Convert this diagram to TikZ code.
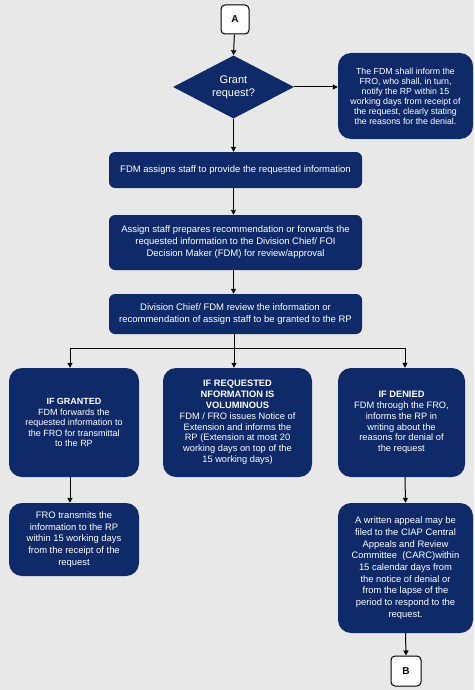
\documentclass[tikz,border=0pt]{standalone}
\usepackage{fontspec}
\setmainfont{Liberation Sans}
\usetikzlibrary{shapes.geometric,arrows.meta}
\definecolor{navy}{RGB}{14,42,104}
\definecolor{bg}{RGB}{232,232,232}
\tikzset{
  x=1pt,y=-1pt,
  flow/.style={draw=none,fill=navy,text=white,rounded corners=6pt,align=center,inner sep=0pt,
    font=\fontsize{9.5}{12}\selectfont},
  side/.style={flow,rounded corners=13pt,font=\fontsize{9.4}{11.7}\selectfont},
  sidemid/.style={side,font=\fontsize{9.3}{10.8}\selectfont},
  sidesm/.style={side,font=\fontsize{9}{10.6}\selectfont},
  sidenote/.style={side,font=\fontsize{8.8}{10}\selectfont},
  conn/.style={draw=black,line width=1pt,fill=white,rounded corners=4pt,font=\bfseries\fontsize{10}{12}\selectfont,inner sep=0pt},
  arr/.style={line width=1pt,-{Triangle[length=5pt,width=5pt]}},
  ln/.style={line width=1pt}
}
\begin{document}
\begin{tikzpicture}
\fill[bg] (0,0) rectangle (474,690);
\useasboundingbox (0,0) rectangle (474,690);
\node[conn,minimum width=28pt,minimum height=29pt] (A) at (235,19.5) {A};
\node[diamond,fill=navy,text=white,inner sep=0pt,minimum width=121pt,minimum height=63pt,aspect=1.92,align=center,font=\fontsize{11}{13}\selectfont] (Q) at (233.5,87) {Grant\\request?};
\node[sidenote,minimum width=135pt,minimum height=86pt] (N) at (405.5,96) {The FDM shall inform the\\FRO, who shall, in turn,\\notify the RP within 15\\working days from receipt of\\the request, clearly stating\\the reasons for the denial.};
\node[flow,minimum width=253pt,minimum height=36pt] (S1) at (235.5,170) {FDM assigns staff to provide the requested information};
\node[flow,minimum width=253pt,minimum height=55pt] (S2) at (235.5,242.5) {Assign staff prepares recommendation or forwards the\\requested information to the Division Chief/ FOI\\Decision Maker (FDM) for review/approval};
\node[flow,minimum width=253pt,minimum height=40pt] (S3) at (235.5,314) {Division Chief/ FDM review the information or\\recommendation of assign staff to be granted to the RP};
\node[sidesm,minimum width=130pt,minimum height=109pt] (G) at (74,422.5) {\textbf{IF GRANTED}\\FDM forwards the\\requested information to\\the FRO for transmittal\\to the RP};
\node[sidemid,minimum width=149pt,minimum height=109pt] (V) at (237.5,422.5) {\textbf{IF REQUESTED}\\\textbf{NFORMATION IS}\\\textbf{VOLUMINOUS}\\FDM / FRO issues Notice of\\Extension and informs the\\RP (Extension at most 20\\working days on top of the\\15 working days)};
\node[sidemid,minimum width=127pt,minimum height=109pt] (D) at (401.5,422.5) {\textbf{IF DENIED}\\FDM through the FRO,\\informs the RP in\\writing about the\\reasons for denial of\\the request};
\node[side,minimum width=130pt,minimum height=73pt] (T) at (74,539.5) {FRO transmits the\\information to the RP\\within 15 working days\\from the receipt of the\\request};
\node[side,minimum width=135pt,minimum height=130pt] (W) at (405.5,568) {A written appeal may be\\filed to the CIAP Central\\Appeals and Review\\Committee\ \ (CARC)within\\15 calendar days from\\the notice of denial or\\from the lapse of the\\period to respond to the\\request.};
\node[conn,minimum width=30pt,minimum height=30pt] (B) at (406,671) {B};
\coordinate (split) at (234,348);
\draw[arr] (A) -- (Q.north);
\draw[arr] (Q.east) -- (Q.east -| N.west);
\draw[arr] (Q.south) -- (S1.north -| Q.south);
\draw[arr] (S1.south -| Q.south) -- (S2.north -| Q.south);
\draw[arr] (S2.south -| Q.south) -- (S3.north -| Q.south);
\draw[ln] (S3.south -| split) -- (split);
\draw[arr] (split) -- (split |- V.north);
\draw[arr] (split) -| ([xshift=-4pt]G.north);
\draw[arr] (split) -| ([xshift=3.5pt]D.north);
\draw[arr] ([xshift=-4pt]G.south) -- ([xshift=-4pt]T.north);
\draw[arr] ([xshift=3.5pt]D.south) -- (W.north);
\draw[arr] (W.south) -- (B.north);
\end{tikzpicture}
\end{document}
